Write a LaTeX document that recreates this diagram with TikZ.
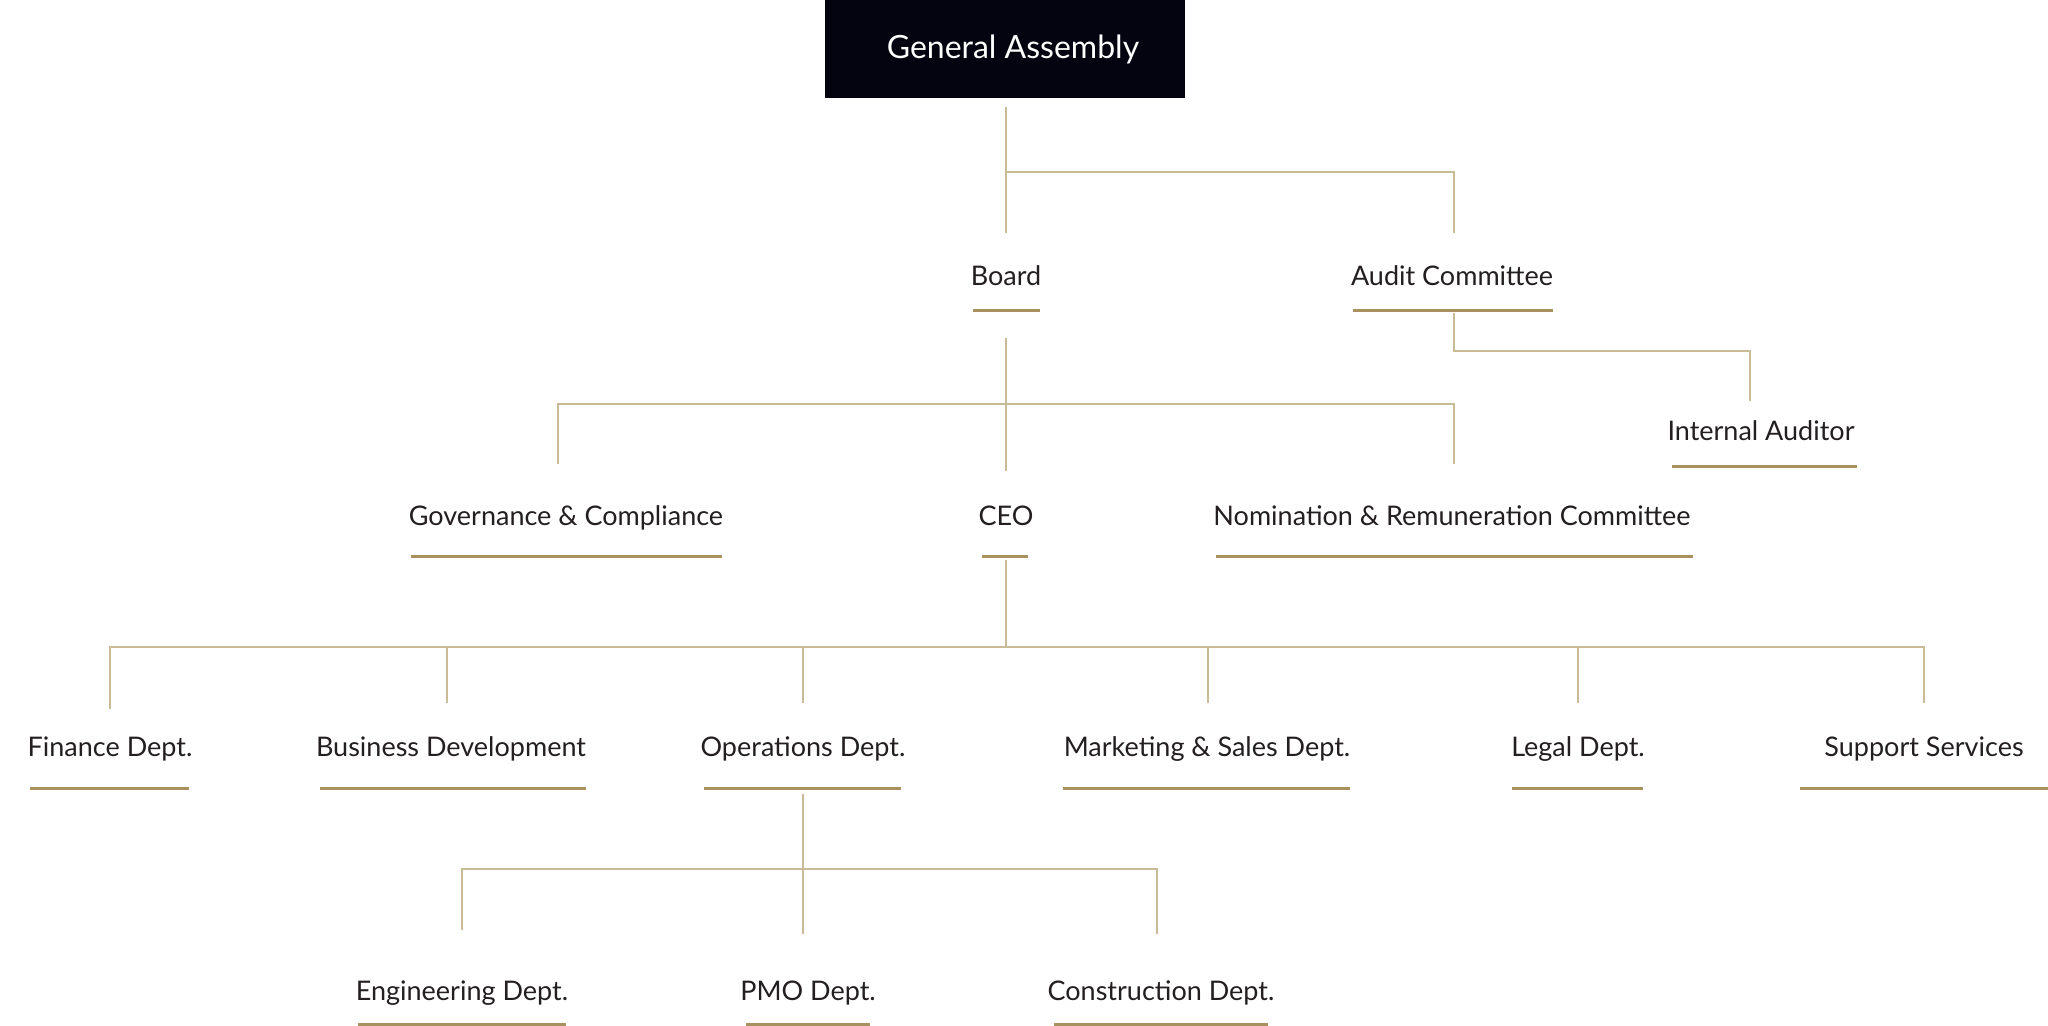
\documentclass[tikz,border=0pt]{standalone}
\usepackage{fontspec}
\setmainfont{Lato}
\definecolor{conn}{HTML}{C9BB98}
\definecolor{gold}{HTML}{A8915E}
\definecolor{ink}{HTML}{231F20}
\definecolor{navy}{HTML}{03040F}
\tikzset{
  lbl/.style={anchor=base, inner sep=0pt, text=ink, font=\fontsize{13.5pt}{16pt}\selectfont},
  conn/.style={draw=conn, line width=0.75pt},
  uline/.style={draw=gold, line width=1.5pt},
  topbox/.style={fill=navy, draw=none}
}
\begin{document}
\begin{tikzpicture}[x=0.5pt,y=-0.5pt]
\useasboundingbox (0,0) rectangle (2048,1026);
% top box
\fill[topbox] (825,0) rectangle (1185,98);
\node[anchor=base, inner sep=0pt, text=white, font=\fontsize{16pt}{19pt}\selectfont] (ga) at (1013,59) {General Assembly};
% labels
\node[lbl] (board) at (1006,286) {Board};
\node[lbl] (audit) at (1452,286) {Audit Committee};
\node[lbl] (ia) at (1761,440) {Internal Auditor};
\node[lbl] (gc) at (566,525) {Governance \& Compliance};
\node[lbl] (ceo) at (1006,525) {CEO};
\node[lbl] (nrc) at (1452,525) {Nomination \& Remuneration Committee};
\node[lbl] (fin) at (110,756) {Finance Dept.};
\node[lbl] (bd) at (451,756) {Business Development};
\node[lbl] (ops) at (803,756) {Operations Dept.};
\node[lbl] (mkt) at (1207,756) {Marketing \& Sales Dept.};
\node[lbl] (legal) at (1578,756) {Legal Dept.};
\node[lbl] (sup) at (1924,756) {Support Services};
\node[lbl] (eng) at (462,1000) {Engineering Dept.};
\node[lbl] (pmo) at (808,1000) {PMO Dept.};
\node[lbl] (con) at (1161,1000) {Construction Dept.};
% underlines
\draw[uline] (973,311) -- (1040,311);
\draw[uline] (1353,311) -- (1553,311);
\draw[uline] (1672,466) -- (1857,466);
\draw[uline] (411,556) -- (722,556);
\draw[uline] (982,556) -- (1028,556);
\draw[uline] (1216,556) -- (1693,556);
\draw[uline] (30,788) -- (189,788);
\draw[uline] (320,788) -- (586,788);
\draw[uline] (704,788) -- (901,788);
\draw[uline] (1063,788) -- (1350,788);
\draw[uline] (1512,788) -- (1643,788);
\draw[uline] (1800,788) -- (2048,788);
\draw[uline] (358,1024) -- (566,1024);
\draw[uline] (746,1024) -- (870,1024);
\draw[uline] (1054,1024) -- (1268,1024);
% connector coordinates
\coordinate (ga-out) at (1006,107);
\coordinate (ga-j) at (1006,172);
\coordinate (board-in) at (1006,233);
\coordinate (audit-in) at (1454,233);
\coordinate (audit-out) at (1454,313);
\coordinate (ia-in) at (1750,401);
\coordinate (board-out) at (1006,338);
\coordinate (board-j) at (1006,404);
\coordinate (ceo-in) at (1006,471);
\coordinate (gc-in) at (558,464);
\coordinate (nrc-in) at (1454,464);
\coordinate (ceo-out) at (1006,560);
\coordinate (ceo-j) at (1006,647);
\coordinate (fin-in) at (110,709);
\coordinate (bd-in) at (447,703);
\coordinate (ops-in) at (803,703);
\coordinate (mkt-in) at (1208,703);
\coordinate (legal-in) at (1578,703);
\coordinate (sup-in) at (1924,703);
\coordinate (ops-out) at (803,794);
\coordinate (ops-j) at (803,869);
\coordinate (pmo-in) at (803,934);
\coordinate (eng-in) at (462,930);
\coordinate (con-in) at (1157,934);
% connectors
\draw[conn] (ga-out) -- (board-in);
\draw[conn] (ga-j) -| (audit-in);
\draw[conn] (audit-out) |- (1750,351) -- (ia-in);
\draw[conn] (board-out) -- (ceo-in);
\draw[conn] (gc-in) |- (board-j);
\draw[conn] (nrc-in) |- (board-j);
\draw[conn] (ceo-out) -- (ceo-j);
\draw[conn] (fin-in) |- (ceo-j);
\draw[conn] (sup-in) |- (ceo-j);
\draw[conn] (bd-in) -- (bd-in |- ceo-j);
\draw[conn] (ops-in) -- (ops-in |- ceo-j);
\draw[conn] (mkt-in) -- (mkt-in |- ceo-j);
\draw[conn] (legal-in) -- (legal-in |- ceo-j);
\draw[conn] (ops-out) -- (pmo-in);
\draw[conn] (eng-in) |- (ops-j);
\draw[conn] (con-in) |- (ops-j);
\end{tikzpicture}
\end{document}
